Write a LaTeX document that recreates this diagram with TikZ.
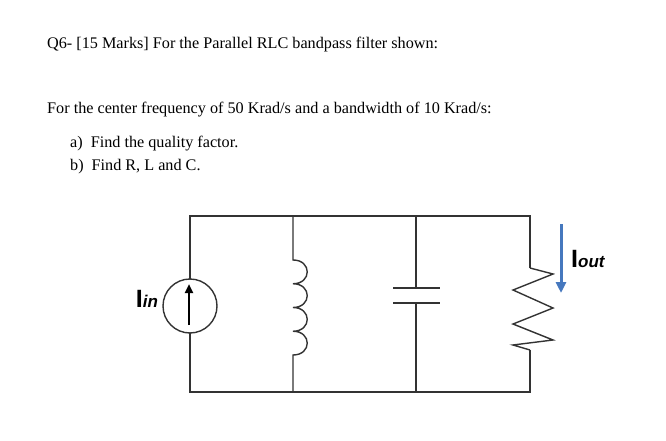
\documentclass[tikz,border=0pt]{standalone}
\usepackage{fontspec}
\setmainfont{Liberation Serif}
\newfontfamily\lblfont{Liberation Sans}
\usetikzlibrary{arrows.meta}
\begin{document}
\begin{tikzpicture}[x=1pt,y=-1pt,
  txt/.style={anchor=west,inner sep=0,font=\fontsize{16.2}{18}\selectfont},
  wire/.style={line width=1.4pt,black!80}]
\useasboundingbox (0,0) rectangle (666,441);
\node[txt] (q) at (47,45) {Q6- [15 Marks] For the Parallel RLC bandpass filter shown:};
\node[txt] (f) at (47,110) {For the center frequency of 50 Krad/s and a bandwidth of 10 Krad/s:};
\node[txt] (a) at (70,144) {a)\hspace{8pt}Find the quality factor.};
\node[txt] (b) at (70,167) {b)\hspace{8pt}Find R, L and C.};
\coordinate (tr) at (530,216);
\coordinate (br) at (530,392);
\draw[wire] (190,279) |- (tr) -- (530,268);
\draw[wire] (190,333) |- (br) -- (530,350);
% source
\node[circle,draw,wire,minimum size=54pt,inner sep=0] (src) at (190,306) {};
\draw[line width=2.6pt,-{Triangle[length=9pt,width=8pt]}] (189,325) -- (189,284);
\node[inner sep=0,font=\lblfont\bfseries] (iin) at (147,299) {\fontsize{25}{25}\selectfont I\fontsize{17}{17}\selectfont\textit{in}};
% inductor
\draw[wire] (293,216) -- (293,260)
  .. controls (312,260) and (312,283.75) .. (293,283.75)
  .. controls (312,283.75) and (312,307.5) .. (293,307.5)
  .. controls (312,307.5) and (312,331.25) .. (293,331.25)
  .. controls (312,331.25) and (312,355) .. (293,355) -- (293,392);
% capacitor
\draw[wire] (416,216) -- (416,288) (393,288) -- (440,288) (393,303) -- (440,303) (416,303) -- (416,392);
% resistor
\draw[wire] (530,268) -- (553,274) -- (513,290) -- (553,308) -- (513,324) -- (553,340) -- (513,345) -- (530,350);
% Iout arrow
\draw[line width=3pt,color={rgb,255:red,70;green,120;blue,190},-{Triangle[length=11pt,width=10pt]}] (561,224) -- (561,293);
\node[inner sep=0,font=\lblfont\bfseries,anchor=west] (iout) at (571,259) {\fontsize{25}{25}\selectfont I\fontsize{17}{17}\selectfont\textit{out}};
\end{tikzpicture}
\end{document}
